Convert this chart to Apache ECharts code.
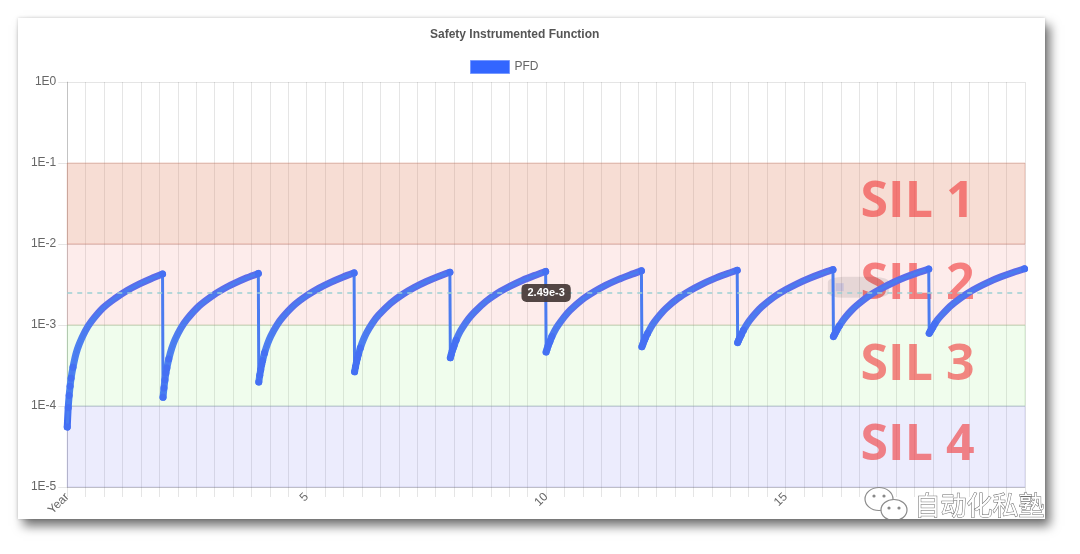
<!DOCTYPE html>
<html>
<head>
<meta charset="utf-8">
<script src="https://cdn.jsdelivr.net/npm/echarts@6/dist/echarts.min.js"></script>
<style>
  html, body { margin: 0; padding: 0; background: #ffffff; }
  body { width: 1080px; height: 554px; position: relative; overflow: hidden; }
  #card { position: absolute; left: 18px; top: 18px; width: 1027px; height: 501px; background: #fff;
          overflow: hidden; box-shadow: 5px 7px 10px rgba(0,0,0,0.55), 0 0 3px rgba(0,0,0,0.18); }
  #chart { position: absolute; left: -18px; top: -18px; width: 1080px; height: 554px; }
</style>
</head>
<body>
<div id="card"><div id="chart"></div></div>
<script>
// ---------------- data ----------------
const chartTitle = 'Safety Instrumented Function';
const seriesName = 'PFD';
const xFirstLabel = 'Year';
const yTickLabels = ['1E-5', '1E-4', '1E-3', '1E-2', '1E-1', '1E0'];

// proof test every 2 years; each cycle sampled at these offsets (years)
const cycleStartYears = [0, 2, 4, 6, 8, 10, 12, 14, 16, 18];
const cycleOffsetYears = [0, 0.02, 0.04, 0.06, 0.08, 0.12, 0.18, 0.25, 0.375, 0.5, 0.75, 1.0, 1.25, 1.5, 1.75, 1.99];

const pfdCycle1  = [5.5e-5, 9.5e-5, 1.35e-4, 1.75e-4, 2.2e-4, 3.0e-4, 4.35e-4, 5.8e-4, 8.4e-4, 1.1e-3, 1.63e-3, 2.13e-3, 2.67e-3, 3.2e-3, 3.73e-3, 4.25e-3];
const pfdCycle2  = [1.28e-4, 1.67e-4, 2.1e-4, 2.55e-4, 2.95e-4, 3.8e-4, 5.1e-4, 6.6e-4, 9.2e-4, 1.18e-3, 1.71e-3, 2.23e-3, 2.76e-3, 3.28e-3, 3.82e-3, 4.33e-3];
const pfdCycle3  = [1.98e-4, 2.4e-4, 2.8e-4, 3.25e-4, 3.65e-4, 4.5e-4, 5.8e-4, 7.3e-4, 9.9e-4, 1.25e-3, 1.78e-3, 2.3e-3, 2.83e-3, 3.36e-3, 3.89e-3, 4.4e-3];
const pfdCycle4  = [2.65e-4, 3.05e-4, 3.5e-4, 3.9e-4, 4.35e-4, 5.2e-4, 6.5e-4, 8.0e-4, 1.06e-3, 1.32e-3, 1.85e-3, 2.38e-3, 2.91e-3, 3.44e-3, 3.97e-3, 4.48e-3];
const pfdCycle5  = [3.95e-4, 4.35e-4, 4.8e-4, 5.2e-4, 5.6e-4, 6.5e-4, 7.8e-4, 9.2e-4, 1.18e-3, 1.44e-3, 1.97e-3, 2.5e-3, 3.02e-3, 3.55e-3, 4.07e-3, 4.58e-3];
const pfdCycle6  = [4.64e-4, 5.05e-4, 5.5e-4, 5.9e-4, 6.3e-4, 7.2e-4, 8.5e-4, 9.9e-4, 1.25e-3, 1.52e-3, 2.05e-3, 2.57e-3, 3.1e-3, 3.63e-3, 4.15e-3, 4.66e-3];
const pfdCycle7  = [5.4e-4, 5.8e-4, 6.25e-4, 6.65e-4, 7.1e-4, 7.9e-4, 9.2e-4, 1.07e-3, 1.33e-3, 1.6e-3, 2.13e-3, 2.65e-3, 3.18e-3, 3.71e-3, 4.23e-3, 4.74e-3];
const pfdCycle8  = [6.06e-4, 6.5e-4, 6.9e-4, 7.3e-4, 7.7e-4, 8.6e-4, 9.9e-4, 1.14e-3, 1.4e-3, 1.67e-3, 2.2e-3, 2.72e-3, 3.25e-3, 3.78e-3, 4.31e-3, 4.82e-3];
const pfdCycle9  = [7.2e-4, 7.6e-4, 8.0e-4, 8.45e-4, 8.85e-4, 9.7e-4, 1.1e-3, 1.25e-3, 1.51e-3, 1.77e-3, 2.3e-3, 2.82e-3, 3.35e-3, 3.88e-3, 4.4e-3, 4.9e-3];
const pfdCycle10 = [7.9e-4, 8.3e-4, 8.7e-4, 9.1e-4, 9.5e-4, 1.04e-3, 1.17e-3, 1.31e-3, 1.57e-3, 1.83e-3, 2.36e-3, 2.88e-3, 3.41e-3, 3.93e-3, 4.45e-3, 4.95e-3];
const pfdCycles = [pfdCycle1, pfdCycle2, pfdCycle3, pfdCycle4, pfdCycle5, pfdCycle6, pfdCycle7, pfdCycle8, pfdCycle9, pfdCycle10];

const pfdAverage = 2.49e-3;
const pfdAverageLabel = '2.49e-3';

const silNames  = ['SIL 1', 'SIL 2', 'SIL 3', 'SIL 4'];
const silLower  = [1e-2, 1e-3, 1e-4, 1e-5];
const silUpper  = [1e-1, 1e-2, 1e-3, 1e-4];

// ---------------- build series data ----------------
const lineData = [];
const bandData = [];
pfdCycles.forEach((vals, c) => {
  vals.forEach((v, i) => {
    const x = cycleStartYears[c] + cycleOffsetYears[i];
    const showDot = i < 6 || i === vals.length - 1;
    lineData.push(showDot ? { value: [x, v] } : { value: [x, v], symbol: 'none' });
    bandData.push([x, v]);
  });
  bandData.push([cycleStartYears[c] + 1.995, '-']);
});

const silFill   = ['rgba(223,119,83,0.25)', 'rgba(240,100,90,0.12)', 'rgba(110,240,80,0.10)', 'rgba(70,70,235,0.10)'];
const silBorder = ['rgba(210,120,100,0.35)', 'rgba(220,150,150,0.25)', 'rgba(150,210,140,0.35)', 'rgba(160,160,220,0.35)'];
const silLabelOffsetY = [-1, 0, 0, -1];

const markAreaData = silNames.map((name, i) => [
  { yAxis: silLower[i], name: name,
    itemStyle: { color: silFill[i], borderColor: silBorder[i], borderWidth: 1 },
    label: { show: true, position: 'insideRight', offset: [-46, silLabelOffsetY[i]],
             formatter: name, color: 'rgba(240,60,60,0.62)', fontSize: 50, fontWeight: 'bold',
             fontFamily: '"Open Sans", "Noto Sans", sans-serif' } },
  { yAxis: silUpper[i] }
]);

const bandGradient = new echarts.graphic.LinearGradient(0, 0, 0, 1, [
  { offset: 0, color: '#5d6ae9' },
  { offset: 0.3, color: '#5870ec' },
  { offset: 0.45, color: '#4d80f0' },
  { offset: 0.75, color: '#4a86f0' },
  { offset: 1, color: '#3d65f5' }
]);

const chart = echarts.init(document.getElementById('chart'), null, { renderer: 'canvas' });
const gridColor = 'rgba(0,0,0,0.1)';

chart.setOption({
  animation: false,
  backgroundColor: 'transparent',
  textStyle: { fontFamily: '"Liberation Sans", Arial, Helvetica, sans-serif' },
  title: {
    text: chartTitle, left: 425, top: 24,
    textStyle: { fontSize: 12, fontWeight: 'bold', color: '#555' }
  },
  legend: {
    left: 465, top: 55, icon: 'rect', itemWidth: 39, itemHeight: 13, itemGap: 10,
    textStyle: { color: '#666', fontSize: 12 },
    data: [{ name: seriesName, itemStyle: { color: '#3366ff', borderColor: '#7799ff', borderWidth: 1 } }]
  },
  grid: { left: 67, right: 55, top: 82, bottom: 67, containLabel: false },
  xAxis: {
    type: 'value', min: 0, max: 20, interval: 5,
    axisLine: { show: true, lineStyle: { color: 'rgba(0,0,0,0.15)' } },
    axisTick: { show: true, length: 10, lineStyle: { color: gridColor } },
    minorTick: { show: true, splitNumber: 13, length: 10, lineStyle: { color: gridColor } },
    splitLine: { show: true, lineStyle: { color: gridColor } },
    minorSplitLine: { show: true, lineStyle: { color: gridColor } },
    axisLabel: {
      rotate: 45, color: '#666', fontSize: 12, margin: 8,
      formatter: v => (v === 0 ? xFirstLabel : (v >= 20 ? '' : String(v)))
    }
  },
  yAxis: {
    type: 'log', logBase: 10, min: 1e-5, max: 1,
    name: seriesName, nameLocation: 'middle', nameRotate: 90, nameGap: 45,
    nameTextStyle: { color: '#888', fontSize: 12 },
    axisLine: { show: true, lineStyle: { color: 'rgba(0,0,0,0.15)' } },
    axisTick: { show: true, length: 9, lineStyle: { color: gridColor } },
    splitLine: { show: true, lineStyle: { color: gridColor } },
    axisLabel: {
      color: '#666', fontSize: 12, margin: 11,
      formatter: v => yTickLabels[Math.round(Math.log10(v)) + 5]
    }
  },
  series: [
    {
      name: 'PFD band', type: 'line', data: bandData, connectNulls: false,
      showSymbol: false, silent: true, z: 3, smooth: 0.3,
      lineStyle: { width: 7, color: bandGradient, cap: 'round', join: 'round' },
      itemStyle: { color: '#5470ee' },
      markArea: { silent: true, data: markAreaData },
      markPoint: {
        silent: true, z: 2, label: { show: false },
        data: [
          { coord: [16.52, 2.93e-3], symbol: 'roundRect', symbolSize: [61, 21], itemStyle: { color: 'rgba(0,0,0,0.09)' } },
          { coord: [16.13, 2.93e-3], symbol: 'rect', symbolSize: 8, itemStyle: { color: 'rgba(80,100,230,0.18)' } }
        ]
      }
    },
    {
      name: seriesName, type: 'line', data: lineData, z: 4,
      showAllSymbol: true, symbol: 'circle', symbolSize: 7,
      lineStyle: { width: 3, color: '#4a7cf0' },
      itemStyle: { color: '#4570f3' },
      markLine: {
        silent: true, symbol: ['none', 'none'], z: 6,
        lineStyle: { color: '#9ccfd4', type: [5, 5], width: 1.5 },
        label: {
          show: true, position: 'middle', formatter: pfdAverageLabel, distance: -9,
          color: '#fff', fontWeight: 'bold', fontSize: 11,
          backgroundColor: 'rgba(68,56,54,0.92)', padding: [4, 6, 3, 6], borderRadius: 5
        },
        data: [[{ coord: [0, pfdAverage] }, { coord: [20, pfdAverage] }]]
      }
    }
  ],
  graphic: [
    { type: 'ellipse', shape: { cx: 879, cy: 499, rx: 14, ry: 11.5 }, style: { fill: '#fff', stroke: '#8a8a8a', lineWidth: 1.2 }, z: 100 },
    { type: 'circle', shape: { cx: 874, cy: 496, r: 1.6 }, style: { fill: '#888' }, z: 101 },
    { type: 'circle', shape: { cx: 884, cy: 496, r: 1.6 }, style: { fill: '#888' }, z: 101 },
    { type: 'ellipse', shape: { cx: 894, cy: 510, rx: 13, ry: 10.5 }, style: { fill: '#fff', stroke: '#8a8a8a', lineWidth: 1.2 }, z: 102 },
    { type: 'circle', shape: { cx: 889, cy: 508, r: 1.6 }, style: { fill: '#888' }, z: 103 },
    { type: 'circle', shape: { cx: 899, cy: 508, r: 1.6 }, style: { fill: '#888' }, z: 103 },
    { type: 'text', left: 914, top: 492, z: 104,
      style: { text: '自动化私塾', font: '26px "Noto Sans CJK SC"', fill: '#ffffff', stroke: '#6a6a6a', lineWidth: 1 } }
  ]
});
</script>
</body>
</html>
